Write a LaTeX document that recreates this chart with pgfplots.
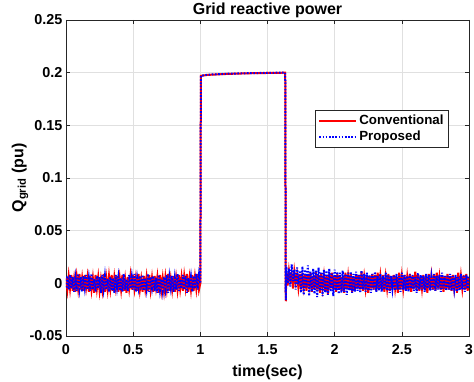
\documentclass[border=0pt]{standalone}
\usepackage{pgfplots}
\pgfplotsset{compat=1.18}
\usepackage{pgfplotstable}
\usepackage{fontspec}
\setmainfont{Liberation Sans}
\pgfplotstableread{
t c p
0.00 0.005 -0.004
0.01 -0.006 0.007
0.02 0.007 -0.006
0.03 -0.005 0.008
0.04 0.008 -0.005
0.05 -0.007 0.006
0.06 0.004 -0.008
0.07 -0.008 0.005
0.08 0.006 -0.007
0.09 -0.005 0.009
0.10 0.009 -0.005
0.11 -0.006 0.006
0.12 0.005 -0.008
0.13 -0.007 0.007
0.14 0.008 -0.004
0.15 -0.004 0.008
0.16 0.006 -0.006
0.17 -0.008 0.005
0.18 0.007 -0.007
0.19 -0.006 0.009
0.20 0.005 -0.006
0.21 -0.009 0.004
0.22 0.008 -0.008
0.23 -0.005 0.007
0.24 0.006 -0.005
0.25 -0.007 0.006
0.26 0.004 -0.009
0.27 -0.006 0.008
0.28 0.009 -0.005
0.29 -0.008 0.007
0.30 0.005 -0.006
0.31 -0.006 0.004
0.32 0.007 -0.008
0.33 -0.005 0.006
0.34 0.008 -0.007
0.35 -0.007 0.005
0.36 0.006 -0.009
0.37 -0.004 0.008
0.38 0.007 -0.004
0.39 -0.008 0.006
0.40 0.005 -0.007
0.41 -0.006 0.005
0.42 0.008 -0.008
0.43 -0.007 0.009
0.44 0.004 -0.006
0.45 -0.009 0.004
0.46 0.006 -0.007
0.47 -0.005 0.008
0.48 0.007 -0.005
0.49 -0.006 0.006
0.50 0.008 -0.006
0.51 -0.005 0.009
0.52 0.005 -0.008
0.53 -0.007 0.005
0.54 0.009 -0.004
0.55 -0.006 0.007
0.56 0.004 -0.006
0.57 -0.008 0.008
0.58 0.007 -0.007
0.59 -0.005 0.005
0.60 0.006 -0.005
0.61 -0.007 0.009
0.62 0.008 -0.008
0.63 -0.006 0.006
0.64 0.005 -0.004
0.65 -0.008 0.007
0.66 0.007 -0.007
0.67 -0.004 0.005
0.68 0.006 -0.009
0.69 -0.009 0.008
0.70 0.008 -0.006
0.71 -0.006 0.004
0.72 0.005 -0.007
0.73 -0.007 0.006
0.74 0.006 -0.005
0.75 -0.005 0.008
0.76 0.009 -0.009
0.77 -0.007 0.006
0.78 0.004 -0.004
0.79 -0.006 0.007
0.80 0.007 -0.008
0.81 -0.008 0.005
0.82 0.005 -0.006
0.83 -0.006 0.009
0.84 0.008 -0.007
0.85 -0.005 0.004
0.86 0.006 -0.005
0.87 -0.007 0.008
0.88 0.007 -0.006
0.89 -0.004 0.007
0.90 0.009 -0.009
0.91 -0.008 0.005
0.92 0.005 -0.004
0.93 -0.006 0.006
0.94 0.008 -0.008
0.95 -0.007 0.007
0.96 0.006 -0.005
0.97 -0.005 0.009
0.98 0.009 -0.006
0.99 -0.006 0.008
1.000 0.000 0.000
1.004 0.197 0.197
1.05 0.1978 0.1980
1.10 0.1982 0.1984
1.15 0.1985 0.1986
1.20 0.1988 0.1990
1.25 0.1990 0.1991
1.30 0.1992 0.1993
1.35 0.1994 0.1995
1.40 0.1995 0.1996
1.45 0.1996 0.1997
1.50 0.1997 0.1998
1.55 0.1998 0.1999
1.60 0.1999 0.2000
1.632 0.2000 0.2000
1.636 -0.017 -0.016
1.64 0.010 0.016
1.65 -0.002 0.000
1.66 0.012 0.014
1.67 0.003 -0.003
1.68 0.009 0.018
1.69 -0.005 0.002
1.70 0.011 0.013
1.71 0.001 -0.006
1.72 0.008 0.015
1.73 -0.004 -0.001
1.74 0.009 0.012
1.75 -0.006 -0.009
1.76 0.010 0.016
1.77 -0.003 -0.011
1.78 0.008 0.013
1.79 -0.007 -0.004
1.80 0.009 0.017
1.81 -0.002 -0.012
1.82 0.010 0.011
1.83 -0.008 -0.008
1.84 0.007 0.014
1.85 -0.005 -0.010
1.86 0.011 0.012
1.87 -0.006 -0.013
1.88 0.008 0.015
1.89 -0.009 -0.007
1.90 0.009 0.011
1.91 -0.004 -0.012
1.92 0.007 0.013
1.93 -0.007 -0.009
1.94 0.008 0.012
1.95 -0.010 -0.011
1.96 0.009 0.014
1.97 -0.005 -0.008
1.98 0.010 0.010
1.99 -0.006 -0.012
2.00 0.007 0.013
2.01 -0.008 -0.007
2.02 0.009 0.011
2.03 -0.005 -0.010
2.04 0.008 0.010
2.05 -0.007 -0.009
2.06 0.006 0.012
2.07 -0.009 -0.008
2.08 0.010 0.009
2.09 -0.005 -0.011
2.10 0.007 0.010
2.11 -0.006 -0.007
2.12 0.009 0.011
2.13 -0.008 -0.009
2.14 0.006 0.009
2.15 -0.007 -0.008
2.16 0.009 0.011
2.17 -0.005 -0.007
2.18 0.008 0.008
2.19 -0.006 -0.009
2.20 0.011 0.012
2.21 -0.007 -0.006
2.22 0.006 0.009
2.23 -0.005 -0.008
2.24 0.008 0.010
2.25 -0.009 -0.007
2.26 0.007 0.008
2.27 -0.005 -0.009
2.28 0.009 0.009
2.29 -0.006 -0.006
2.30 0.008 0.011
2.31 -0.007 -0.008
2.32 0.010 0.007
2.33 -0.005 -0.007
2.34 0.007 0.009
2.35 -0.006 -0.008
2.36 0.008 0.007
2.37 -0.008 -0.006
2.38 0.006 0.010
2.39 -0.005 -0.007
2.40 0.009 0.008
2.41 -0.007 -0.009
2.42 0.007 0.007
2.43 -0.006 -0.005
2.44 0.008 0.008
2.45 -0.005 -0.007
2.46 0.006 0.009
2.47 -0.009 -0.006
2.48 0.010 0.007
2.49 -0.006 -0.008
2.50 0.007 0.010
2.51 -0.005 -0.006
2.52 0.008 0.008
2.53 -0.007 -0.007
2.54 0.006 0.007
2.55 -0.006 -0.008
2.56 0.009 0.009
2.57 -0.008 -0.005
2.58 0.007 0.008
2.59 -0.005 -0.007
2.60 0.011 0.006
2.61 -0.006 -0.009
2.62 0.008 0.010
2.63 -0.007 -0.006
2.64 0.007 0.008
2.65 -0.005 -0.006
2.66 0.008 0.007
2.67 -0.006 -0.008
2.68 0.006 0.009
2.69 -0.009 -0.005
2.70 0.009 0.008
2.71 -0.005 -0.007
2.72 0.007 0.006
2.73 -0.006 -0.006
2.74 0.008 0.009
2.75 -0.007 -0.007
2.76 0.010 0.007
2.77 -0.005 -0.006
2.78 0.006 0.008
2.79 -0.006 -0.008
2.80 0.008 0.010
2.81 -0.008 -0.005
2.82 0.007 0.007
2.83 -0.005 -0.007
2.84 0.009 0.008
2.85 -0.006 -0.006
2.86 0.007 0.009
2.87 -0.007 -0.007
2.88 0.008 0.007
2.89 -0.005 -0.005
2.90 0.006 0.008
2.91 -0.009 -0.008
2.92 0.010 0.006
2.93 -0.006 -0.007
2.94 0.007 0.009
2.95 -0.005 -0.006
2.96 0.008 0.007
2.97 -0.006 -0.008
2.98 0.009 0.008
2.99 -0.007 -0.005
3.00 0.006 0.007
}\qdata
\begin{document}
\begin{tikzpicture}
\begin{axis}[
  scale only axis,
  width=403pt, height=316pt,
  xmin=0, xmax=3, ymin=-0.05, ymax=0.25,
  xtick={0,0.5,1,1.5,2,2.5,3},
  ytick={-0.05,0,0.05,0.1,0.15,0.2,0.25},
  yticklabels={-0.05,0,0.05,0.1,0.15,0.2,0.25},
  xticklabels={0,0.5,1,1.5,2,2.5,3},
  /pgf/number format/assume math mode=true,
  tick label style={font=\fontsize{14.4}{16}\selectfont\bfseries},
  xticklabel style={yshift=-5pt},
  grid=major,
  major grid style={draw=black!12, line width=0.5pt},
  axis line style={draw=black!85, line width=0.6pt},
  major tick length=4pt,
  tick style={draw=black!85, line width=0.6pt},
  every axis title shift=0pt,
  title={Grid reactive power},
  title style={font=\fontsize{16}{18}\selectfont\bfseries, at={(axis description cs:0.5,1.032)}, anchor=center},
  xlabel={time(sec)},
  xlabel style={font=\fontsize{16}{18}\selectfont\bfseries, at={(axis description cs:0.5,-0.114)}, anchor=center},
  ylabel={Q\textsubscript{grid} (pu)},
  ylabel style={font=\fontsize{16}{18}\selectfont\bfseries, at={(axis description cs:-0.114,0.5)}, anchor=center, rotate=0},
  legend cell align=left,
  legend style={at={(axis description cs:0.950,0.716)}, anchor=north east,
    draw=black!85, line width=0.6pt, font=\fontsize{13.3}{15}\selectfont\bfseries,
    inner sep=3pt, row sep=1pt},
  legend image code/.code={\draw[#1] (0pt,0pt) -- (37pt,0pt);},
]
\addplot[red, line width=2pt] table[x=t, y=c] {\qdata};
\addlegendentry{Conventional}
\addplot[blue, line width=2pt, dash pattern=on 1.6pt off 1.6pt] table[x=t, y=p] {\qdata};
\addlegendentry{Proposed}
\end{axis}
\pgfresetboundingbox
\path ([shift={(-66pt,-46pt)}]current axis.south west) rectangle ([shift={(5pt,20pt)}]current axis.north east);
\end{tikzpicture}
\end{document}
